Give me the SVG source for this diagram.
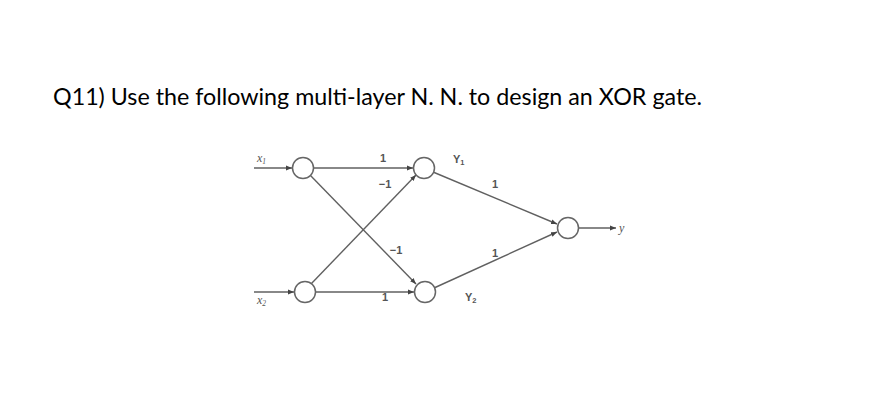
<svg xmlns="http://www.w3.org/2000/svg" width="891" height="404" viewBox="0 0 891 404">
<style>
.title{font-family:Lato,"Open Sans",sans-serif;font-size:22.5px;fill:#000}
.node circle{fill:#fff;stroke:#666;stroke-width:1.5}
.edge{stroke:#606060;stroke-width:1.4;fill:none}
.lbl{font-family:"Liberation Sans",Arial,sans-serif;font-size:11px;fill:#555;font-weight:bold}
.var{font-family:"Liberation Serif",serif;font-size:12px;fill:#555;font-style:italic}
.sub{font-size:7.5px}
</style>
<defs>
<marker id="ah" viewBox="0 0 10 10" refX="10" refY="5" markerWidth="6" markerHeight="6" markerUnits="userSpaceOnUse" orient="auto">
<path d="M0,1 L10,5 L0,9 z" fill="#444"/>
</marker>
</defs>
<rect width="891" height="404" fill="#fff"/>
<text class="title" x="53" y="104.5" textLength="649" lengthAdjust="spacingAndGlyphs">Q11) Use the following multi-layer N. N. to design an XOR gate.</text>

<g id="connectors">
<line class="edge" x1="254" y1="168" x2="292" y2="168" marker-end="url(#ah)"/>
<line class="edge" x1="254" y1="292" x2="294" y2="292" marker-end="url(#ah)"/>
<line class="edge" x1="313" y1="168" x2="413" y2="168" marker-end="url(#ah)"/>
<line class="edge" x1="315" y1="292" x2="414" y2="292" marker-end="url(#ah)"/>
<line class="edge" x1="310" y1="175" x2="416" y2="284" marker-end="url(#ah)"/>
<line class="edge" x1="311" y1="284" x2="416" y2="175" marker-end="url(#ah)"/>
<line class="edge" x1="433" y1="172" x2="557" y2="224" marker-end="url(#ah)"/>
<line class="edge" x1="434" y1="288" x2="557" y2="232" marker-end="url(#ah)"/>
<line class="edge" x1="578" y1="228" x2="616" y2="228" marker-end="url(#ah)"/>
</g>

<g id="in1" class="node"><circle cx="303" cy="168" r="10.5"/></g>
<g id="in2" class="node"><circle cx="305" cy="292" r="10.5"/></g>
<g id="h1" class="node"><circle cx="424" cy="168" r="10.5"/></g>
<g id="h2" class="node"><circle cx="425" cy="292" r="10.5"/></g>
<g id="out" class="node"><circle cx="568" cy="228" r="10.5"/></g>

<g id="labels">
<text class="var" x="257" y="162">x<tspan class="sub" dy="2">1</tspan></text>
<text class="var" x="257" y="304">x<tspan class="sub" dy="2">2</tspan></text>
<text class="lbl" x="383" y="162" text-anchor="middle">1</text>
<text class="lbl" x="385" y="188" text-anchor="middle">−1</text>
<text class="lbl" x="396" y="254" text-anchor="middle">−1</text>
<text class="lbl" x="385" y="301" text-anchor="middle">1</text>
<text class="lbl" x="453" y="163">Y<tspan class="sub" dy="2">1</tspan></text>
<text class="lbl" x="465" y="301">Y<tspan class="sub" dy="2">2</tspan></text>
<text class="lbl" x="495" y="188" text-anchor="middle">1</text>
<text class="lbl" x="495" y="257" text-anchor="middle">1</text>
<text class="var" x="619" y="232">y</text>
</g>
</svg>
